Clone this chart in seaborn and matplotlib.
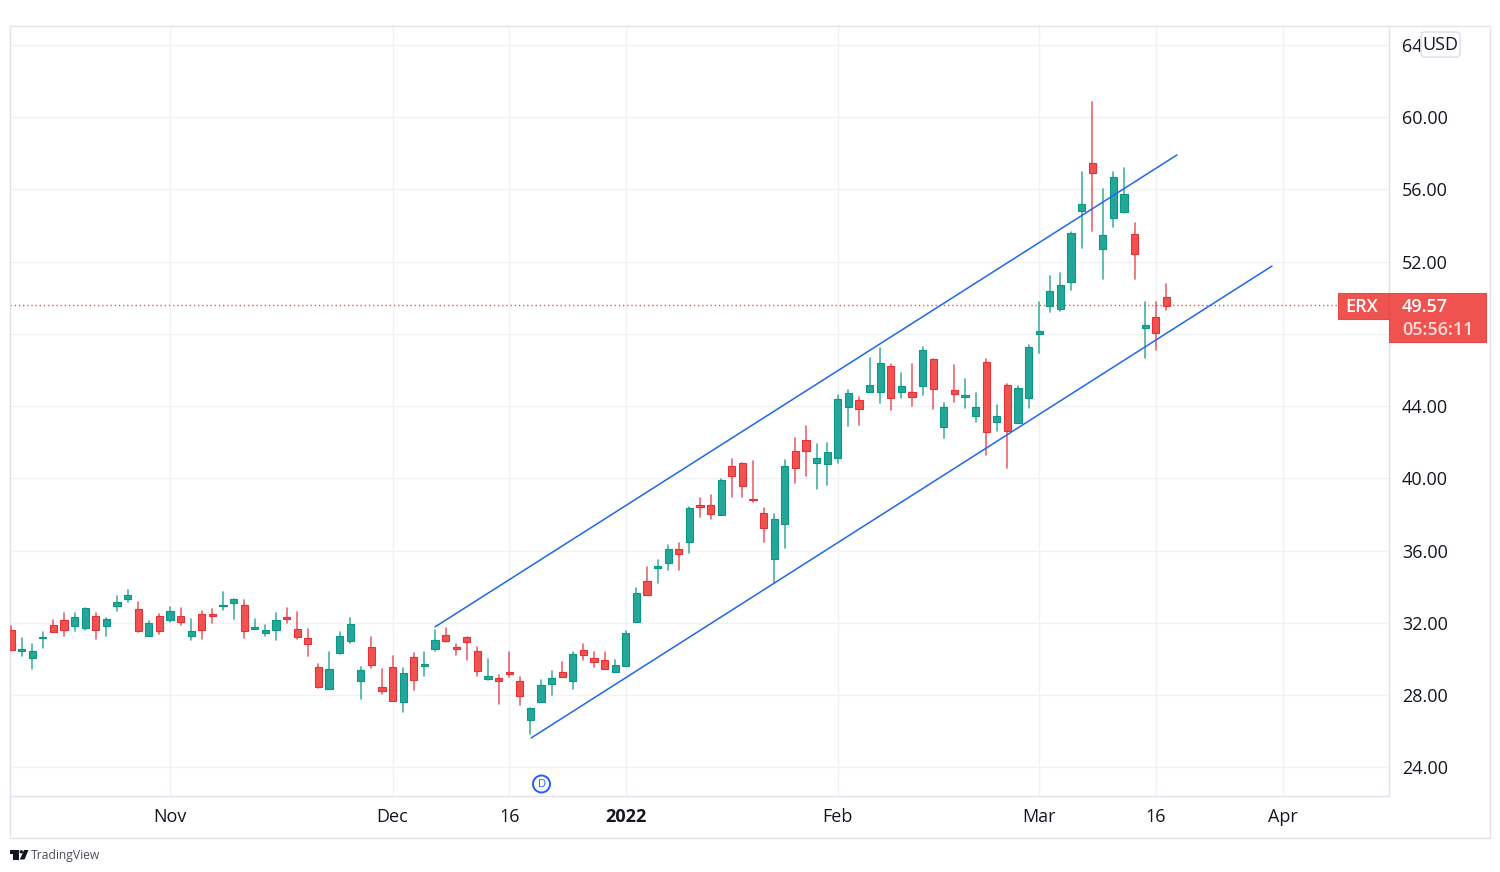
import matplotlib
matplotlib.use("Agg")
import matplotlib.pyplot as plt
from matplotlib.patches import Rectangle, FancyBboxPatch, Ellipse, Polygon
from matplotlib.lines import Line2D
import numpy as np
import pandas as pd
import seaborn as sns

opens = [31.61,30.43,30.08,31.17,31.89,32.14,31.83,31.70,32.37,31.83,32.94,33.34,32.79,31.30,32.37,32.18,32.37,31.30,32.48,32.48,
         32.94,33.09,33.01,31.66,31.46,31.61,32.31,31.67,31.15,29.54,28.33,30.32,31.00,28.81,30.65,28.44,29.54,27.64,30.13,29.60,
         30.54,31.35,30.65,31.24,30.45,28.90,28.95,29.29,28.81,26.63,27.64,28.64,29.29,28.81,30.50,30.08,29.97,29.29,29.64,32.07,
         34.32,35.06,35.32,36.07,36.48,38.53,38.51,37.97,40.68,40.83,38.88,38.08,35.54,37.49,41.53,42.12,40.83,40.80,41.11,43.97,
         44.34,44.76,44.76,46.20,44.76,44.76,45.13,46.62,42.84,44.87,44.52,43.43,46.46,43.12,45.18,43.06,44.43,48.01,49.54,49.38,
         50.87,54.78,57.44,52.72,54.41,54.76,53.51,48.33,48.95,50.02]
closes = [30.48,30.56,30.45,31.22,31.48,31.61,32.31,32.83,31.61,32.20,33.14,33.53,31.54,31.98,31.54,32.68,32.07,31.55,31.61,32.40,
          33.01,33.31,31.55,31.78,31.61,32.14,32.24,31.24,30.85,28.46,29.43,31.30,31.94,29.38,29.69,28.25,27.68,29.23,28.84,29.71,
          31.04,31.02,30.56,30.96,29.32,29.06,28.81,29.16,27.94,27.27,28.58,28.95,28.99,30.28,30.22,29.86,29.43,29.65,31.46,33.64,
          33.56,35.13,36.07,35.83,38.36,38.43,38.01,39.89,40.15,39.56,38.80,37.27,37.77,40.68,40.57,41.53,41.11,41.48,44.39,44.71,
          43.86,45.18,46.40,44.43,45.09,44.50,47.10,44.96,43.97,44.65,44.60,43.97,42.58,43.43,42.64,44.98,47.25,48.16,50.39,50.71,
          53.58,55.17,56.90,53.45,56.70,55.74,52.44,48.47,48.03,49.54]
highs = [31.83,31.15,30.83,31.48,32.16,32.53,32.53,32.83,32.53,32.26,33.49,33.82,33.14,32.11,32.50,32.90,32.85,32.20,32.64,32.75,
         33.73,33.31,33.27,32.20,31.87,32.53,32.81,32.59,31.65,29.73,30.37,31.52,32.26,29.56,31.24,29.45,30.15,29.49,30.36,30.41,
         31.61,31.74,30.85,31.24,30.69,29.99,29.12,30.37,28.99,27.27,28.82,29.34,29.84,30.37,30.83,30.41,30.37,29.93,31.57,33.91,
         35.08,35.48,36.29,36.40,38.40,38.90,39.06,39.95,41.07,40.83,40.96,38.34,38.03,41.02,42.22,42.90,41.92,41.96,44.61,44.87,
         44.52,46.64,47.21,46.33,45.83,46.33,47.25,46.62,44.19,46.27,45.48,44.72,46.59,44.08,45.22,45.09,47.38,49.75,51.19,51.37,
         53.64,56.94,60.81,56.04,56.98,57.20,54.12,49.76,49.76,50.78]
lows = [30.48,30.17,29.47,30.63,31.48,31.30,31.54,31.59,31.11,31.30,32.66,33.14,31.48,31.30,31.39,32.07,31.90,31.06,31.11,31.98,
        32.72,32.24,31.15,31.66,31.30,31.06,31.98,31.13,30.17,28.40,28.33,30.26,30.91,27.77,29.53,28.05,27.68,27.09,28.31,29.05,
        30.47,30.95,30.23,29.95,29.05,28.86,27.51,29.03,27.46,25.85,27.64,27.99,28.99,28.34,29.95,29.58,29.43,29.29,29.64,32.07,
        33.56,34.19,34.93,34.93,35.89,37.88,37.75,37.97,38.97,38.97,38.71,36.46,34.19,36.15,39.76,40.13,39.39,39.65,40.83,42.90,
        42.93,44.76,44.15,43.78,44.43,44.00,44.63,43.84,42.25,44.21,43.91,43.14,41.29,42.62,40.55,43.06,43.89,46.92,49.21,49.27,
        50.43,52.77,53.71,51.02,53.93,54.71,51.02,46.65,47.13,49.30]

price_ticks = [24, 28, 32, 36, 40, 44, 48, 52, 56, 60, 64]
price_tick_labels = ["24.00", "28.00", "32.00", "36.00", "40.00", "44.00", "", "52.00", "56.00", "60.00", "64"]
time_tick_bars = [15, 36, 47, 58, 78, 97, 108, 120]
time_tick_labels = ["Nov", "Dec", "16", "2022", "Feb", "Mar", "16", "Apr"]
upper_bars = [40.0, 110.0]
upper_prices = [31.78, 57.90]
lower_bars = [49.06, 118.96]
lower_prices = [25.63, 51.75]
last_price = 49.57

W, H = 1500, 872
UP, DOWN = "#26a69a", "#ef5350"
UP_E, DOWN_E = "#089981", "#e8303a"
BORDER, GRID = "#e0e3eb", "#f0f2f6"
FONT = "Open Sans"

sns.set_theme(style="white")
plt.rcParams["font.family"] = [FONT, "DejaVu Sans"]
fig = plt.figure(figsize=(W / 100, H / 100), dpi=100, facecolor="white")
L, R, T, B = 10, 1389, 26, 796
ax = fig.add_axes([L / W, 1 - B / H, (R - L) / W, (B - T) / H])
ax.set_xlim((L - 11) / 10.6, (R - 11) / 10.6)
ax.set_ylim(24 + (767.5 - B) / 18.07, 24 + (767.5 - T) / 18.07)

df = pd.DataFrame({"bar": np.arange(len(opens)), "open": opens, "high": highs, "low": lows, "close": closes})
df["dir"] = np.where(df["close"] >= df["open"], "up", "down")
wicks = df.melt(id_vars=["bar", "dir"], value_vars=["high", "low"], value_name="price")

ax.set_axisbelow(True)
ax.grid(True, color=GRID, lw=1)
sns.lineplot(data=wicks, x="bar", y="price", units="bar", hue="dir", estimator=None,
             palette={"up": UP_E, "down": DOWN_E}, lw=1.2, alpha=0.75, legend=False, ax=ax, zorder=3)
ax.bar(df["bar"], (df["close"] - df["open"]).abs(), bottom=df[["open", "close"]].min(axis=1), width=0.68,
       color=[UP if d == "up" else DOWN for d in df["dir"]],
       edgecolor=[UP_E if d == "up" else DOWN_E for d in df["dir"]], linewidth=0.8, zorder=4)
for xs, ys in ((upper_bars, upper_prices), (lower_bars, lower_prices)):
    sns.lineplot(x=xs, y=ys, color="#1f66f0", lw=1.1, ax=ax, zorder=5, estimator=None, legend=False)
ax.axhline(last_price, color="#ef5350", lw=1, ls=(0, (1, 2)), zorder=2)

ax.set_xlabel("")
ax.set_ylabel("")
ax.set_xticks(time_tick_bars)
ax.set_xticklabels(time_tick_labels, fontsize=13, color="#131722")
ax.get_xticklabels()[3].set_fontweight("bold")
ax.yaxis.tick_right()
ax.set_yticks(price_ticks)
ax.set_yticklabels(price_tick_labels, fontsize=13, color="#131722", ha="left")
ax.tick_params(axis="x", length=0, pad=8.5)
ax.tick_params(axis="y", length=0, pad=9.4)
for s in ax.spines.values():
    s.set_color(BORDER)
    s.set_linewidth(1)

def fx(x): return x / W
def fy(y): return 1 - y / H
def box(x0, y0, x1, y1, **kw):
    fig.add_artist(Rectangle((fx(x0), fy(y1)), (x1 - x0) / W, (y1 - y0) / H, transform=fig.transFigure, **kw))

fig.add_artist(Line2D([fx(R), fx(1490), fx(1490)], [fy(T), fy(T), fy(838)], color=BORDER, lw=1))
fig.add_artist(Line2D([fx(L), fx(L), fx(1490)], [fy(B), fy(838), fy(838)], color=BORDER, lw=1))

# USD pill
fig.add_artist(FancyBboxPatch((1424, H - 54), 33, 19, boxstyle="round,pad=3,rounding_size=4",
                              transform=None, fc="white", ec=BORDER, lw=1.2, zorder=6))
fig.text(fx(1440), fy(44.5), "USD", ha="center", va="center", fontsize=13, color="#131722", zorder=7)

# last price tags
box(1338, 293, 1389, 319, fc="#ef5350", ec="#e84a48", lw=0.8, zorder=6)
box(1389, 293, 1486, 342, fc="#ef5350", ec="#e84a48", lw=0.8, zorder=6)
fig.text(fx(1362), fy(307), "ERX", ha="center", va="center", fontsize=13, fontweight="semibold", color="white", zorder=7)
fig.text(fx(1402), fy(307.5), "49.57", ha="left", va="center", fontsize=13, fontweight="semibold", color="white", zorder=7)
fig.text(fx(1402), fy(330), "05:56:11", ha="left", va="center", fontsize=13, fontweight="semibold", color="#fbdcdc", zorder=7)

# dividend marker
fig.add_artist(Ellipse((fx(541.5), fy(784)), 17 / W, 17 / H, transform=fig.transFigure,
                       fc="white", ec="#1f5eff", lw=1.4, zorder=6))
fig.text(fx(541.5), fy(784), "D", ha="center", va="center", fontsize=8, color="#1f5eff", zorder=7)

# brand mark
box(9.5, 850, 19, 853.5, fc="#131722", ec="none", zorder=6)
box(13.5, 853.5, 19, 859.5, fc="#131722", ec="none", zorder=6)
fig.add_artist(Ellipse((fx(21.3), fy(851.8)), 3.4 / W, 3.4 / H, transform=fig.transFigure, fc="#131722", ec="none", zorder=6))
fig.add_artist(Polygon([(fx(24), fy(850)), (fx(28.5), fy(850)), (fx(24.5), fy(859.5)), (fx(19.8), fy(859.5))],
                       transform=fig.transFigure, fc="#131722", ec="none", zorder=6))
fig.text(fx(31), fy(855), "TradingView", ha="left", va="center", fontsize=8.7, color="#4a4e59")

fig.savefig("out.png", dpi=100, facecolor="white")
